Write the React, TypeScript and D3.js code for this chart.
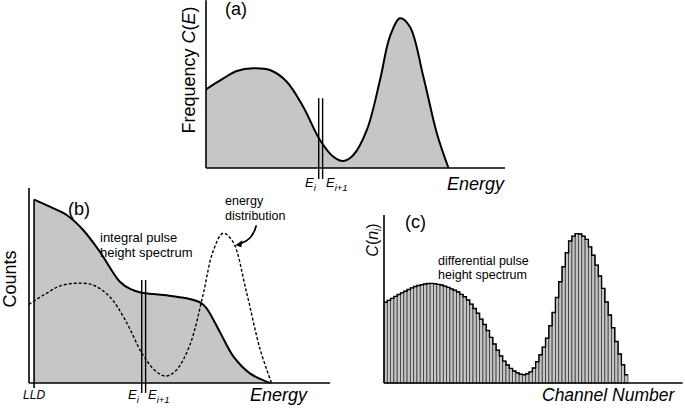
import React from "react";
import * as d3 from "d3";

// Energy distribution C(E) (panels a and b)
const energy = [0, 5.8, 10.3, 15.8, 21.4, 27.0, 32.5, 38.1, 42.6, 45.9, 49.3, 53.8, 58.2, 61.5, 64.9, 68.2, 72.7, 77.2, 81.1];
const frequency = [47.4, 54.0, 58.4, 60.1, 59.0, 52.0, 36.9, 16.9, 6.8, 4.2, 7.8, 22.9, 53.0, 79.1, 90.2, 85.1, 55.0, 20.9, 0];

// Integral pulse height spectrum (panel b)
const integralE = [1.7, 7.0, 12.6, 18.1, 23.7, 30.4, 34.0, 37.7, 41.6, 46.0, 52.7, 57.2, 59.4, 63.9, 68.4, 73.9, 80.6];
const integralCounts = [110.5, 106.2, 101.2, 92.2, 79.1, 61.0, 56.5, 54.4, 53.6, 52.8, 51.0, 48.5, 45.0, 30.5, 15.9, 5.8, 0];

// Differential pulse height spectrum, counts per channel (panel c)
const channelCounts = [
  48.6, 49.8, 51, 52.2, 53.3, 54.3, 55.3, 56.3, 57.3, 58.1,
  58.7, 59.2, 59.6, 59.9, 60, 59.8, 59.4, 59, 58.3, 57.6,
  56.7, 55.9, 54.8, 53.4, 52, 50, 47.5, 44.9, 42, 38.5,
  35.2, 31.6, 27.5, 23.5, 19.8, 16.3, 13.2, 10.8, 8.8, 7.2,
  6.1, 5.3, 5, 5.6, 6.7, 9, 12.8, 17, 21.6, 27,
  34.5, 42.5, 51.5, 61, 70, 78.5, 85.5, 88.5, 90, 89.8,
  88.5, 86.5, 82, 77, 71, 64.5, 57, 48.8, 41, 33.3,
  25, 17.5, 11, 5,
];

const Ei = 37.7;
const Ei1 = 39.0;
const LLD = 1.7;

const FONT = "'Liberation Sans', Arial, Helvetica, sans-serif";
const FILL = "#c6c6c6";

export default function App() {
  // Panel (a)
  const xA = d3.scaleLinear().domain([0, 100]).range([206, 505]);
  const yA = d3.scaleLinear().domain([0, 100]).range([168, 2]);
  // Panel (b)
  const xB = d3.scaleLinear().domain([0, 100]).range([29, 328]);
  const yB = d3.scaleLinear().domain([0, 100]).range([383, 217]);
  // Panel (c)
  const xC = d3.scaleLinear().domain([0, 91]).range([384, 684]);
  const yC = d3.scaleLinear().domain([0, 100]).range([383, 217]);

  const dist = energy.map((e, i) => [e, frequency[i]] as [number, number]);
  const integ = integralE.map((e, i) => [e, integralCounts[i]] as [number, number]);

  const curve = d3.curveCatmullRom.alpha(0.5);

  const areaA = d3.area<[number, number]>().x((d) => xA(d[0])).y0(yA(0)).y1((d) => yA(Math.max(0, d[1]))).curve(curve);
  const lineA = d3.line<[number, number]>().x((d) => xA(d[0])).y((d) => yA(Math.max(0, d[1]))).curve(curve);

  const areaB = d3.area<[number, number]>().x((d) => xB(d[0])).y0(yB(0)).y1((d) => yB(Math.max(0, d[1]))).curve(curve);
  const lineB = d3.line<[number, number]>().x((d) => xB(d[0])).y((d) => yB(Math.max(0, d[1]))).curve(curve);

  // step outline for histogram
  const stepPts: [number, number][] = [];
  channelCounts.forEach((c, k) => {
    stepPts.push([k, c]);
    stepPts.push([k + 1, c]);
  });
  const stepLine = d3.line<[number, number]>().x((d) => xC(d[0])).y((d) => yC(d[1]));

  const arrowTip: [number, number] = [xB(69), yB(83)];

  const subLabel = (x: number, y: number, sub: string, size = 13) => (
    <text x={x} y={y} fontFamily={FONT} fontStyle="italic" fontSize={size} fill="#000">
      E
      <tspan fontSize={9.5} dy={4}>{sub}</tspan>
    </text>
  );

  return (
    <svg width={685} height={410} style={{ position: "absolute", left: 0, top: 0, background: "#fff" }}>
      {/* ---------- Panel (a) ---------- */}
      <path d={areaA(dist) || ""} fill={FILL} />
      <path d={lineA(dist) || ""} fill="none" stroke="#000" strokeWidth={2} />
      <line x1={xA(0)} x2={xA(0)} y1={yA(101)} y2={yA(0)} stroke="#000" strokeWidth={1.6} />
      <line x1={xA(0)} x2={xA(100)} y1={yA(0)} y2={yA(0)} stroke="#000" strokeWidth={1.6} />
      {[Ei, Ei1].map((e, i) => (
        <line key={"a" + i} x1={xA(e)} x2={xA(e)} y1={yA(42)} y2={yA(-6.6)} stroke="#000" strokeWidth={1.4} />
      ))}
      {subLabel(305, 187, "i")}
      {subLabel(326, 187, "i+1")}
      <text x={447} y={190} fontFamily={FONT} fontStyle="italic" fontSize={18}>Energy</text>
      <text x={225} y={15} fontFamily={FONT} fontSize={18}>(a)</text>
      <text transform={`translate(195,70) rotate(-90)`} textAnchor="middle" fontFamily={FONT} fontSize={18}>
        Frequency <tspan fontStyle="italic">C</tspan>(<tspan fontStyle="italic">E</tspan>)
      </text>

      {/* ---------- Panel (b) ---------- */}
      <path d={areaB(integ) || ""} fill={FILL} />
      <path d={lineB(integ) || ""} fill="none" stroke="#000" strokeWidth={2} />
      <path d={lineB(dist) || ""} fill="none" stroke="#000" strokeWidth={1.4} strokeDasharray="3,2" />
      <line x1={xB(0)} x2={xB(0)} y1={yB(117.5)} y2={yB(0)} stroke="#000" strokeWidth={1.6} />
      <line x1={xB(0)} x2={xB(100.7)} y1={yB(0)} y2={yB(0)} stroke="#000" strokeWidth={1.6} />
      <line x1={xB(LLD)} x2={xB(LLD)} y1={yB(110.5)} y2={yB(-3)} stroke="#000" strokeWidth={1.6} />
      {[Ei, Ei1].map((e, i) => (
        <line key={"b" + i} x1={xB(e)} x2={xB(e)} y1={yB(62)} y2={yB(-6)} stroke="#000" strokeWidth={1.4} />
      ))}
      <text x={xB(LLD)} y={399} textAnchor="middle" fontFamily={FONT} fontStyle="italic" fontSize={12}>LLD</text>
      {subLabel(128, 399, "i")}
      {subLabel(148, 399, "i+1")}
      <text x={250} y={401} fontFamily={FONT} fontStyle="italic" fontSize={18}>Energy</text>
      <text x={68} y={215} fontFamily={FONT} fontSize={18}>(b)</text>
      <text transform={`translate(16,279) rotate(-90)`} textAnchor="middle" fontFamily={FONT} fontSize={18}>Counts</text>
      <text x={100} y={242} fontFamily={FONT} fontSize={13}>integral pulse</text>
      <text x={100} y={257} fontFamily={FONT} fontSize={13}>height spectrum</text>
      <text x={225} y={205} fontFamily={FONT} fontSize={12.5}>energy</text>
      <text x={225} y={220} fontFamily={FONT} fontSize={12.5}>distribution</text>
      <path
        d={`M${arrowTip[0] + 21},${arrowTip[1] - 20} C${arrowTip[0] + 19},${arrowTip[1] - 11} ${arrowTip[0] + 13},${arrowTip[1] - 4} ${arrowTip[0] + 5},${arrowTip[1] - 1.5}`}
        fill="none"
        stroke="#000"
        strokeWidth={1.6}
      />
      <path
        d={`M${arrowTip[0]},${arrowTip[1]} L${arrowTip[0] + 7},${arrowTip[1] - 5} L${arrowTip[0] + 6},${arrowTip[1] + 2} Z`}
        fill="#000"
      />

      {/* ---------- Panel (c) ---------- */}
      {channelCounts.map((c, k) => (
        <rect
          key={k}
          x={xC(k)}
          y={yC(c)}
          width={xC(k + 1) - xC(k)}
          height={yC(0) - yC(c)}
          fill={FILL}
          stroke="#3a3a3a"
          strokeWidth={0.8}
        />
      ))}
      <path d={stepLine(stepPts) || ""} fill="none" stroke="#000" strokeWidth={1.4} />
      <line x1={xC(0)} x2={xC(0)} y1={yC(101.2)} y2={yC(0)} stroke="#000" strokeWidth={1.6} />
      <line x1={xC(0)} x2={xC(90.6)} y1={yC(0)} y2={yC(0)} stroke="#000" strokeWidth={1.6} />
      <text x={405} y={228} fontFamily={FONT} fontSize={18}>(c)</text>
      <text x={438} y={265} fontFamily={FONT} fontSize={12.5}>differential pulse</text>
      <text x={438} y={279} fontFamily={FONT} fontSize={12.5}>height spectrum</text>
      <text x={542} y={401} fontFamily={FONT} fontStyle="italic" fontSize={17.5}>Channel Number</text>
      <text transform={`translate(378,240) rotate(-90)`} textAnchor="middle" fontFamily={FONT} fontSize={16}>
        <tspan fontStyle="italic">C</tspan>(<tspan fontStyle="italic">n</tspan>
        <tspan fontSize={10} dy={3} fontStyle="italic">i</tspan>
        <tspan dy={-3}>)</tspan>
      </text>
    </svg>
  );
}
